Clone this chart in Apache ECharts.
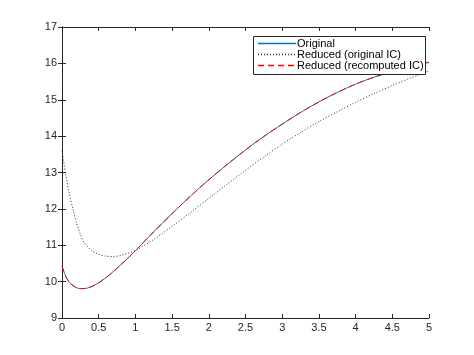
<!DOCTYPE html>
<html>
<head>
<meta charset="utf-8">
<script src="https://cdn.jsdelivr.net/npm/echarts@6/dist/echarts.min.js"></script>
<style>html,body{margin:0;padding:0;background:#fff}#c{width:474px;height:355px}</style>
</head>
<body>
<div id="c"></div>
<script>
var xValues = [0, 0.05, 0.1, 0.15, 0.2, 0.25, 0.3, 0.4, 0.5, 0.6, 0.7, 0.8, 0.9, 1.0, 1.25, 1.5, 1.75, 2.0, 2.25, 2.5, 2.75, 3.0, 3.25, 3.5, 3.75, 4.0, 4.25, 4.5, 4.75, 5.0];
var originalValues = [10.43, 10.15, 9.98, 9.89, 9.83, 9.81, 9.81, 9.86, 9.97, 10.11, 10.28, 10.46, 10.65, 10.85, 11.37, 11.87, 12.35, 12.8, 13.22, 13.62, 13.99, 14.33, 14.65, 14.94, 15.2, 15.43, 15.62, 15.78, 15.92, 16.03];
var reducedOrigICValues = [13.6, 12.95, 12.42, 11.98, 11.6, 11.3, 11.08, 10.86, 10.75, 10.7, 10.69, 10.72, 10.78, 10.86, 11.16, 11.52, 11.9, 12.29, 12.68, 13.06, 13.43, 13.78, 14.1, 14.4, 14.67, 14.93, 15.17, 15.39, 15.6, 15.79];
var reducedRecompICValues = [10.43, 10.15, 9.98, 9.89, 9.83, 9.81, 9.81, 9.86, 9.97, 10.11, 10.28, 10.46, 10.65, 10.85, 11.37, 11.87, 12.35, 12.8, 13.22, 13.62, 13.99, 14.33, 14.65, 14.94, 15.2, 15.43, 15.62, 15.78, 15.92, 16.03];
var seriesNames = ['Original', 'Reduced (original IC)', 'Reduced (recomputed IC)'];
var seriesColors = ['#0072BD', '#333333', '#FF0000'];
var seriesDash = ['solid', [1, 2], [6, 4]];

function pairs(ys) { return xValues.map(function (x, i) { return [x, ys[i]]; }); }

var axisColor = '#262626';
var font = 'Liberation Sans, Arial, sans-serif';

// legend drawn as graphic (box + line samples + labels)
var legendBox = {left: 253, top: 36, width: 172, height: 38};
var legendGraphic = [{
  type: 'rect', z: 100,
  shape: {x: legendBox.left + 0.5, y: legendBox.top + 0.5, width: legendBox.width, height: legendBox.height},
  style: {fill: '#fff', stroke: axisColor, lineWidth: 1}
}];
seriesNames.forEach(function (n, i) {
  var cy = legendBox.top + 7.5 + i * 11;
  legendGraphic.push({
    type: 'line', z: 101,
    shape: {x1: legendBox.left + 5, y1: cy, x2: legendBox.left + 43, y2: cy},
    style: {stroke: seriesColors[i], lineWidth: 1.5, lineDash: seriesDash[i] === 'solid' ? null : seriesDash[i]}
  });
  legendGraphic.push({
    type: 'text', z: 101,
    style: {text: n, x: legendBox.left + 44, y: cy, font: '11px ' + font, fill: '#000', textVerticalAlign: 'middle', verticalAlign: 'middle'}
  });
});

var chart = echarts.init(document.getElementById('c'), null, {renderer: 'canvas'});
chart.setOption({
  animation: false,
  backgroundColor: '#fff',
  grid: {left: 62, top: 27, right: 45, bottom: 37},
  graphic: legendGraphic,
  xAxis: [{
    type: 'value', min: 0, max: 5, interval: 0.5,
    axisLine: {lineStyle: {color: axisColor, width: 1}},
    axisTick: {inside: true, length: 4, lineStyle: {color: axisColor}},
    axisLabel: {color: axisColor, fontFamily: font, fontSize: 11, margin: 4},
    splitLine: {show: false}
  }, {
    type: 'value', min: 0, max: 5, interval: 0.5, position: 'top',
    axisLine: {show: true, lineStyle: {color: axisColor, width: 1}},
    axisTick: {show: true, inside: true, length: 4, lineStyle: {color: axisColor}},
    axisLabel: {show: false}, splitLine: {show: false}
  }],
  yAxis: [{
    type: 'value', min: 9, max: 17, interval: 1,
    axisLine: {show: true, lineStyle: {color: axisColor, width: 1}},
    axisTick: {show: true, inside: true, length: 4, lineStyle: {color: axisColor}},
    axisLabel: {color: axisColor, fontFamily: font, fontSize: 11, margin: 5},
    splitLine: {show: false}
  }, {
    type: 'value', min: 9, max: 17, interval: 1, position: 'right',
    axisLine: {show: true, lineStyle: {color: axisColor, width: 1}},
    axisTick: {show: true, inside: true, length: 4, lineStyle: {color: axisColor}},
    axisLabel: {show: false}, splitLine: {show: false}
  }],
  series: [originalValues, reducedOrigICValues, reducedRecompICValues].map(function (vals, i) {
    return {
      name: seriesNames[i], type: 'line', data: pairs(vals),
      smooth: 0.3, symbol: 'none',
      lineStyle: {color: seriesColors[i], width: 1, type: seriesDash[i]},
      itemStyle: {color: seriesColors[i]}
    };
  })
});
</script>
</body>
</html>
